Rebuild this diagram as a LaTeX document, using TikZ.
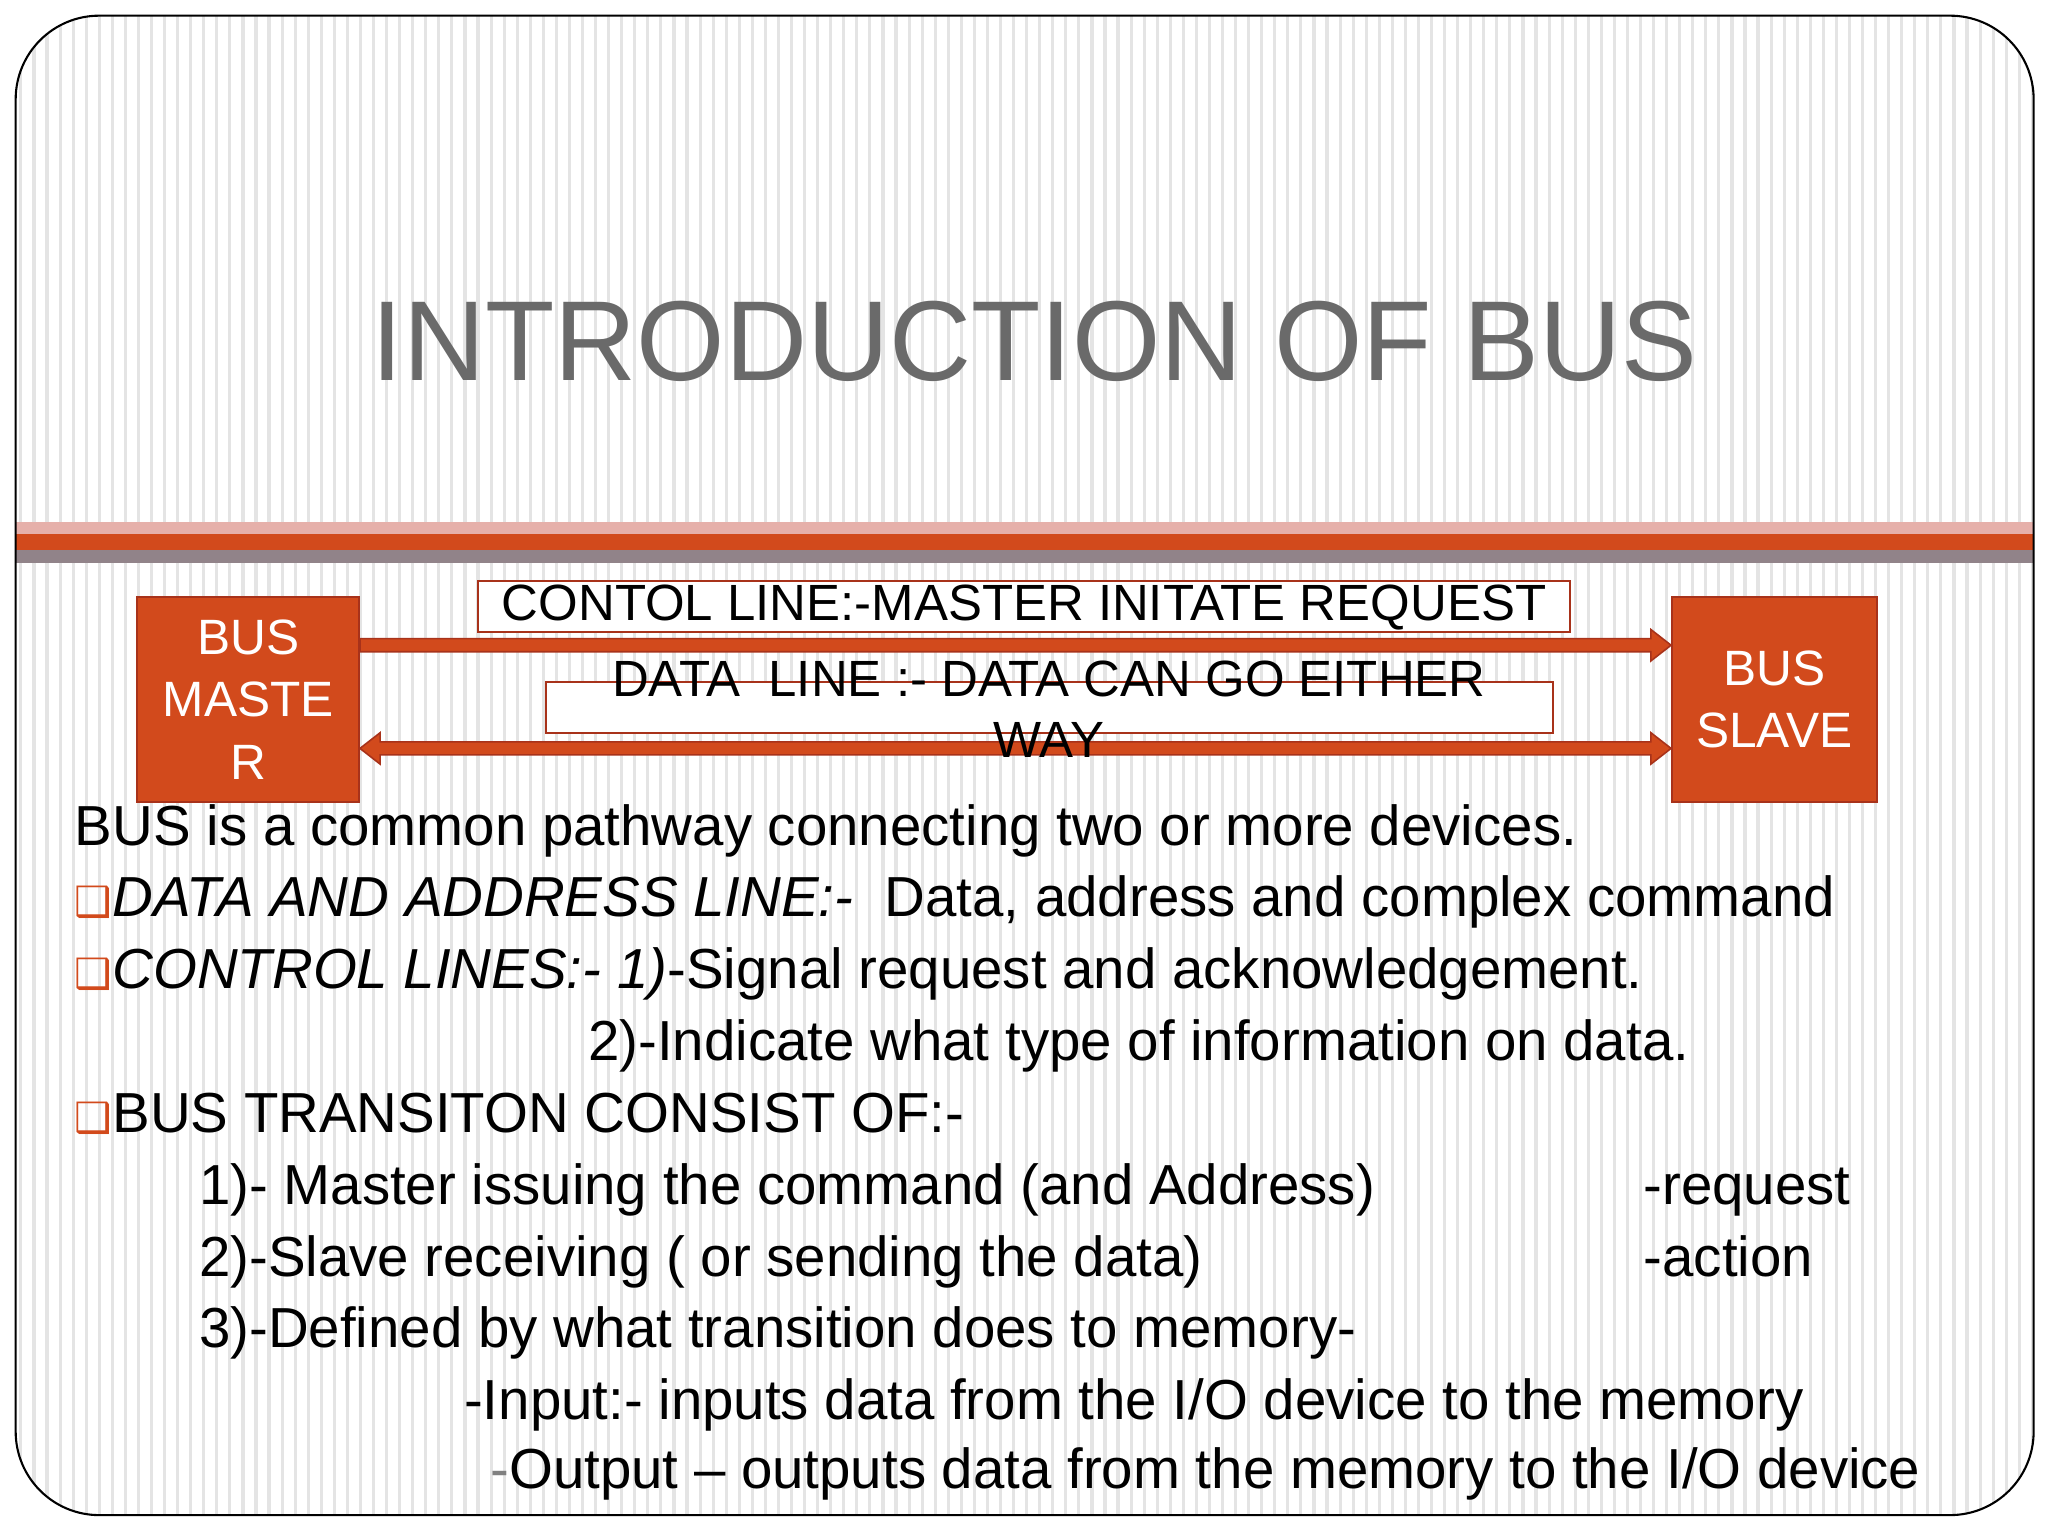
\documentclass[tikz,border=0pt]{standalone}
\usepackage{fontspec}
\setmainfont{Liberation Sans}
\newfontfamily\symf{DejaVu Sans}
\definecolor{org}{HTML}{D24A1C}
\definecolor{dred}{HTML}{A8321A}
\definecolor{pinkb}{HTML}{E6B0AA}
\definecolor{grayb}{HTML}{918389}
\definecolor{ttl}{HTML}{6A6A6A}
\definecolor{strp}{HTML}{E4E4E4}
\tikzset{
 body/.style={anchor=base west,inner sep=0pt,font=\fontsize{21.6}{24}\selectfont},
 blk/.style={fill=org,draw=dred,line width=0.6pt,text=white,align=center,font=\fontsize{19}{24}\selectfont},
 lbl/.style={fill=white,draw=dred,line width=0.7pt,inner sep=0pt},
 shaft/.style={fill=org,draw=dred,line width=0.6pt},
}
\newcommand{\bul}{{\symf\color{org}\fontsize{16}{16}\selectfont ❑}}
\begin{document}
\begin{tikzpicture}[x=0.5pt,y=-0.5pt]
\useasboundingbox (0,0) rectangle (1568,1176);
\fill[white] (0,0) rectangle (1568,1176);
\begin{scope}
\clip[rounded corners=32] (12,12) rectangle (1557,1160);
\foreach \i in {0,...,155} {\draw[strp,line width=1.2pt] (16+10*\i,12) -- (16+10*\i,1160);}
\fill[pinkb] (12,400) rectangle (1557,409);
\fill[org] (12,409) rectangle (1557,421);
\fill[grayb] (12,421) rectangle (1557,431);
\end{scope}
\draw[black,line width=0.8pt,rounded corners=32] (12,12) rectangle (1557,1160);
\node[text=ttl,font=\fontsize{43.5}{50}\selectfont] (title) at (792,261) {INTRODUCTION OF BUS};
% boxes
\node[blk,minimum width=85pt,minimum height=78.5pt] (m) at (190,535.5) {BUS\\MASTE\\R};
\node[blk,minimum width=78.5pt,minimum height=78.5pt] (s) at (1358.5,535.5) {BUS\\SLAVE};
% label boxes
\node[lbl,minimum width=418pt,minimum height=19.5pt] (cl) at (784,464.5) {};
\node[lbl,minimum width=385.5pt,minimum height=19.5pt] (dl) at (803.5,541.5) {};
% arrows
\draw[shaft] (m.east |- 0,489) -- (1264,489) -- (1264,482) -- (s.west |- 0,494) -- (1264,506) -- (1264,499) -- (m.east |- 0,499) -- cycle;
\draw[shaft] (291,568) -- (1264,568) -- (1264,561) -- (s.west |- 0,573) -- (1264,585) -- (1264,578) -- (291,578) -- (291,585) -- (m.east |- 0,573) -- (291,561) -- cycle;
\node[font=\fontsize{19.5}{22}\selectfont,inner sep=0pt] (ct) at (784,465) {CONTOL LINE:-MASTER INITATE REQUEST};
\node[font=\fontsize{19.5}{23.5}\selectfont,align=center,inner sep=0pt] (dt) at (803,543) {DATA\ \ LINE :- DATA CAN GO EITHER\\WAY};
% body
\node[body] (l1) at (57,647) {BUS is a common pathway connecting two or more devices.};
\node[body] (l2) at (57,702) {\bul\textit{DATA AND ADDRESS LINE:-}\ \ Data, address and complex command};
\node[body] (l3) at (57,757) {\bul\textit{CONTROL LINES:- 1)}-Signal request and acknowledgement.};
\node[body] (l4) at (450,812) {2)-Indicate what type of information on data.};
\node[body] (l5) at (57,867) {\bul BUS TRANSITON CONSIST OF:-};
\node[body] (l6) at (152,922) {1)- Master issuing the command (and Address)};
\node[body] (l6r) at (1258,922) {-request};
\node[body] (l7) at (152,977) {2)-Slave receiving ( or sending the data)};
\node[body] (l7r) at (1258,977) {-action};
\node[body] (l8) at (152,1032) {3)-Defined by what transition does to memory-};
\node[body] (l9) at (355,1087) {-Input:- inputs data from the I/O device to the memory};
\node[body] (l10) at (375,1140) {\textcolor{gray}{-}Output – outputs data from the memory to the I/O device};
\end{tikzpicture}
\end{document}
